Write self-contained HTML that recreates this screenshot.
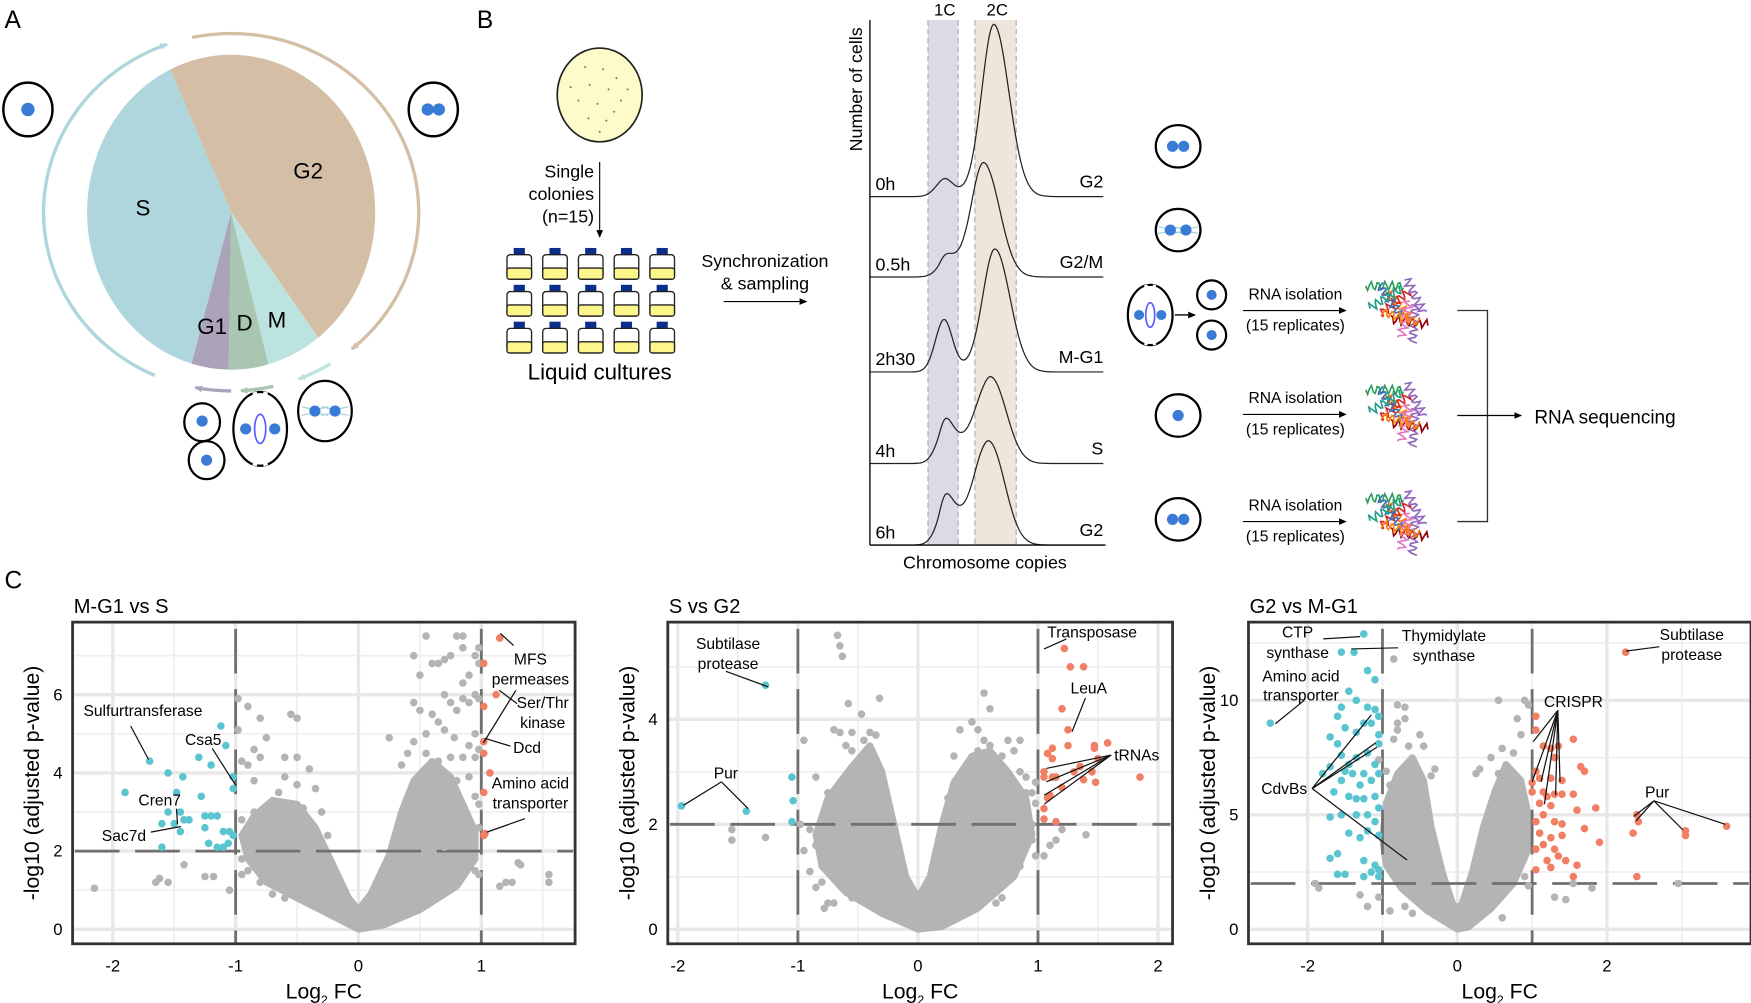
<!DOCTYPE html>
<html><head><meta charset="utf-8">
<style>
html,body{margin:0;padding:0;background:#fff;}
svg{display:block;font-family:"Liberation Sans",sans-serif;}
</style></head>
<body>
<svg id="fig" width="1751" height="1003" viewBox="0 0 1568 898" preserveAspectRatio="none">
<defs>
<marker id="ahk" markerWidth="8" markerHeight="8" refX="6" refY="4" orient="auto" markerUnits="userSpaceOnUse"><path d="M0,1 L7,4 L0,7 z" fill="#000"/></marker>
<marker id="ahb" markerWidth="8" markerHeight="8" refX="6" refY="4" orient="auto" markerUnits="userSpaceOnUse"><path d="M0,1 L7,4 L0,7 z" fill="#aed6dc"/></marker>
<marker id="aht" markerWidth="8" markerHeight="8" refX="6" refY="4" orient="auto" markerUnits="userSpaceOnUse"><path d="M0,1 L7,4 L0,7 z" fill="#d4bfa6"/></marker>
<marker id="ahc" markerWidth="8" markerHeight="8" refX="6" refY="4" orient="auto" markerUnits="userSpaceOnUse"><path d="M0,1 L7,4 L0,7 z" fill="#bde3e0"/></marker>
<marker id="ahg" markerWidth="8" markerHeight="8" refX="6" refY="4" orient="auto" markerUnits="userSpaceOnUse"><path d="M0,1 L7,4 L0,7 z" fill="#a8c6b2"/></marker>
<marker id="ahp" markerWidth="8" markerHeight="8" refX="6" refY="4" orient="auto" markerUnits="userSpaceOnUse"><path d="M0,1 L7,4 L0,7 z" fill="#aba3b9"/></marker>
</defs>

<text x="4" y="25" font-size="22">A</text>
<text x="427" y="25" font-size="22">B</text>
<text x="4" y="527" font-size="22">C</text>

<g id="pieA"></g>
<g id="ringA"></g>
<g><ellipse cx="25" cy="98" rx="22" ry="24" fill="#fff" stroke="#000" stroke-width="2.2"/><circle cx="25" cy="98" r="6" fill="#3a7bd5"/></g>
<g><ellipse cx="388" cy="98" rx="22" ry="24" fill="#fff" stroke="#000" stroke-width="2.2"/><circle cx="383" cy="98" r="5.5" fill="#3a7bd5"/><circle cx="393" cy="98" r="5.5" fill="#3a7bd5"/></g>
<g><ellipse cx="181" cy="378" rx="16" ry="17" fill="#fff" stroke="#000" stroke-width="2"/><circle cx="181" cy="377" r="5" fill="#3a7bd5"/></g>
<g><ellipse cx="185" cy="412" rx="16" ry="17" fill="#fff" stroke="#000" stroke-width="2"/><circle cx="185" cy="412" r="5" fill="#3a7bd5"/></g>
<g><ellipse cx="233" cy="384" rx="24" ry="33" fill="#fff" stroke="#000" stroke-width="2"/><path d="M228,351 Q233,372 228,384 Q233,396 228,417 M238,351 Q233,372 238,384 Q233,396 238,417" fill="#fff" stroke="#fff" stroke-width="4"/><ellipse cx="233" cy="384" rx="5" ry="13" fill="none" stroke="#5a5aff" stroke-width="1.5"/><circle cx="220" cy="384" r="5" fill="#3a7bd5"/><circle cx="246" cy="384" r="5" fill="#3a7bd5"/></g>
<g><ellipse cx="291" cy="368" rx="24" ry="27" fill="#fff" stroke="#000" stroke-width="2"/><path d="M270,364 Q282,368 294,364 M270,372 Q282,368 294,372 M288,364 Q300,368 312,364 M288,372 Q300,368 312,372" fill="none" stroke="#9bd0dc" stroke-width="1"/><circle cx="282" cy="368" r="5" fill="#3a7bd5"/><circle cx="300" cy="368" r="5" fill="#3a7bd5"/></g>

<g><ellipse cx="537" cy="85" rx="38" ry="42" fill="#fdfbc9" stroke="#222" stroke-width="1.5"/>
<g fill="#777"><circle cx="524" cy="60" r="0.9"/><circle cx="540" cy="62" r="0.9"/><circle cx="552" cy="70" r="0.9"/><circle cx="528" cy="76" r="0.9"/><circle cx="545" cy="80" r="0.9"/><circle cx="518" cy="90" r="0.9"/><circle cx="535" cy="93" r="0.9"/><circle cx="556" cy="90" r="0.9"/><circle cx="527" cy="106" r="0.9"/><circle cx="543" cy="108" r="0.9"/><circle cx="537" cy="118" r="0.9"/><circle cx="511" cy="78" r="0.9"/><circle cx="562" cy="80" r="0.9"/><circle cx="550" cy="100" r="0.9"/></g></g>
<line x1="537" y1="145" x2="537" y2="212" stroke="#000" stroke-width="1" marker-end="url(#ahk)"/>
<g font-size="16" text-anchor="end"><text x="532" y="159">Single</text><text x="532" y="179">colonies</text><text x="532" y="199">(n=15)</text></g>
<g id="bottles"></g>
<text x="537" y="340" font-size="20" text-anchor="middle">Liquid cultures</text>
<g font-size="16" text-anchor="middle"><text x="685" y="239">Synchronization</text><text x="685" y="259">&amp; sampling</text></g>
<line x1="648" y1="270" x2="722" y2="270" stroke="#000" stroke-width="1" marker-end="url(#ahk)"/>

<g id="hist"></g>

<g><ellipse cx="1055" cy="131" rx="20" ry="19" fill="#fff" stroke="#000" stroke-width="2"/><circle cx="1050" cy="131" r="5" fill="#3a7bd5"/><circle cx="1060" cy="131" r="5" fill="#3a7bd5"/></g>
<g><ellipse cx="1055" cy="206" rx="20" ry="19" fill="#fff" stroke="#000" stroke-width="2"/><path d="M1037,203 Q1048,206 1060,203 M1037,209 Q1048,206 1060,209 M1050,203 Q1062,206 1073,203 M1050,209 Q1062,206 1073,209" fill="none" stroke="#9bd0dc" stroke-width="1"/><circle cx="1048" cy="206" r="5" fill="#3a7bd5"/><circle cx="1062" cy="206" r="5" fill="#3a7bd5"/></g>
<g><ellipse cx="1030" cy="282" rx="20" ry="27" fill="#fff" stroke="#000" stroke-width="2"/><path d="M1026,255 Q1030,272 1026,282 Q1030,292 1026,309 M1034,255 Q1030,272 1034,282 Q1030,292 1034,309" fill="#fff" stroke="#fff" stroke-width="3"/><ellipse cx="1030" cy="282" rx="4" ry="11" fill="none" stroke="#5a5aff" stroke-width="1.5"/><circle cx="1020" cy="282" r="4.5" fill="#3a7bd5"/><circle cx="1040" cy="282" r="4.5" fill="#3a7bd5"/>
<line x1="1052" y1="282" x2="1070" y2="282" stroke="#000" stroke-width="1.2" marker-end="url(#ahk)"/>
<ellipse cx="1085" cy="264" rx="13" ry="13" fill="#fff" stroke="#000" stroke-width="2"/><circle cx="1085" cy="264" r="4.5" fill="#3a7bd5"/>
<ellipse cx="1085" cy="300" rx="13" ry="13" fill="#fff" stroke="#000" stroke-width="2"/><circle cx="1085" cy="300" r="4.5" fill="#3a7bd5"/></g>
<g><ellipse cx="1055" cy="372" rx="20" ry="19" fill="#fff" stroke="#000" stroke-width="2"/><circle cx="1055" cy="372" r="5" fill="#3a7bd5"/></g>
<g><ellipse cx="1055" cy="465" rx="20" ry="19" fill="#fff" stroke="#000" stroke-width="2"/><circle cx="1050" cy="465" r="5" fill="#3a7bd5"/><circle cx="1060" cy="465" r="5" fill="#3a7bd5"/></g>
<g id="rnaIso" font-size="14" text-anchor="middle"></g>
<g id="tangles"></g>
<path d="M1305,278 L1332,278 L1332,467 L1305,467" fill="none" stroke="#333" stroke-width="1.2"/>
<line x1="1305" y1="372" x2="1362" y2="372" stroke="#000" stroke-width="1.2" marker-end="url(#ahk)"/>
<text x="1374" y="379" font-size="17">RNA sequencing</text>

<g id="v1"></g>
<g id="v2"></g>
<g id="v3"></g>
<g id="ann" font-size="14"></g>
</svg>

<script>
const phaseNames = ["G2","M","D","G1","S"];
const phaseEndAngles = [52.8, 75, 91, 106, 245];
const phaseStartAngle = -115;
const phaseColors = ["#d4bfa6","#bde3e0","#a8c6b2","#aba3b9","#aed6dc"];

const traceTimes = ["0h","0.5h","2h30","4h","6h"];
const traceStages = ["G2","G2/M","M-G1","S","G2"];
const peak1CHeight = [13, 8, 44, 22, 22];
const sPhaseHeight = [4, 14, 4, 22, 28];
const peak2CHeight = [154, 98, 110, 76, 90];
const peak2CPos = [2.0, 1.82, 2.02, 1.95, 1.92];

const v1Grey = [[-2.15,1.05],[-1.65,1.2],[-1.62,1.3],[-1.55,1.2],[-1.42,1.65],[-1.25,1.35],[-1.18,1.35],[-1.05,1.0],[-0.98,5.9],[-0.98,5.1],[-0.95,4.3],[-0.9,5.7],[-0.9,4.2],[-0.85,4.6],[-0.8,4.4],[-0.8,5.4],[-0.75,4.9],[-0.6,4.4],[-0.55,5.5],[-0.5,5.4],[-0.5,4.4],[-0.4,4.1],[-0.6,3.9],[-0.5,3.7],[-0.35,3.6],[-0.3,3.0],[-0.7,3.2],[-0.85,3.0],[-0.9,2.6],[-0.95,2.8],[-0.95,1.8],[-0.9,1.5],[-0.8,1.2],[-0.75,1.5],[-0.7,0.9],[-0.6,0.8],[-0.65,3.5],[-0.45,3.1],[-0.2,1.5],[-0.25,2.4],[-0.85,3.8],[-0.95,1.4],[-0.75,2.5],
[0.25,4.9],[0.45,7.0],[0.5,6.5],[0.55,7.5],[0.6,6.8],[0.65,6.8],[0.7,6.9],[0.75,7.0],[0.8,7.5],[0.85,7.5],[0.85,7.2],[0.95,7.0],[0.98,6.8],[0.9,6.5],[0.85,6.3],[0.7,6.0],[0.75,5.8],[0.9,5.8],[0.95,6.0],[0.45,5.8],[0.5,5.6],[0.6,5.5],[0.65,5.3],[0.8,5.6],[0.85,5.9],[0.55,5.0],[0.7,5.1],[0.78,4.9],[0.9,4.7],[0.95,5.0],[0.98,4.6],[0.45,4.8],[0.55,4.5],[0.65,4.3],[0.75,4.4],[0.85,4.4],[0.95,4.4],[0.35,4.2],[0.4,4.5],[0.95,3.4],[0.98,3.2],[0.9,3.9],[0.8,3.8],[0.6,3.9],[0.98,2.6],[0.85,2.9],[0.8,2.4],[0.7,2.1],[0.9,1.8],[0.95,1.5],[0.98,1.4],[0.85,1.6],[0.75,1.3],[0.7,1.1],[0.6,1.2],[0.5,1.0],[0.6,0.9],[1.3,1.7],[1.32,1.65],[1.25,1.2],[1.2,1.2],[1.15,1.1],[1.55,1.4],[1.55,1.2],[0.98,7.2],[0.98,5.9]];
const v1Down = [[-1.7,4.3],[-1.55,4.0],[-1.43,3.9],[-1.48,3.5],[-1.9,3.5],[-1.28,3.4],[-1.3,4.4],[-1.2,4.2],[-1.12,5.2],[-1.08,4.7],[-1.02,3.9],[-1.02,3.6],[-1.55,3.0],[-1.45,3.0],[-1.5,2.7],[-1.6,2.7],[-1.42,2.8],[-1.38,2.8],[-1.25,2.9],[-1.2,2.9],[-1.15,2.9],[-1.45,2.5],[-1.25,2.6],[-1.1,2.5],[-1.05,2.5],[-1.02,2.4],[-1.22,2.2],[-1.15,2.1],[-1.1,2.1],[-1.06,2.2],[-1.6,2.1]];
const v1Up = [[1.15,7.45],[1.02,6.8],[1.12,6.0],[1.02,5.7],[1.02,4.8],[1.02,4.5],[1.07,4.0],[1.02,3.5],[1.03,2.45],[1.02,2.4]];
const v1Core = [[0,0],[-0.25,0.4],[-0.5,0.8],[-0.75,1.2],[-0.9,1.8],[-0.95,2.4],[-0.85,2.9],[-0.7,3.3],[-0.5,3.2],[-0.35,2.6],[-0.2,1.6],[-0.08,0.8],[0,0.5],[0.1,0.9],[0.25,1.9],[0.35,3.0],[0.45,3.8],[0.6,4.3],[0.75,3.9],[0.85,3.2],[0.95,2.5],[0.95,1.8],[0.8,1.1],[0.5,0.5],[0.2,0.1]];

const v2Grey = [[-0.67,5.6],[-0.65,5.4],[-0.63,5.2],[-0.32,4.4],[-0.58,4.3],[-0.47,4.1],[-0.7,3.8],[-0.65,3.75],[-0.55,3.75],[-0.4,3.75],[-0.35,3.7],[-0.45,3.6],[-0.6,3.5],[-0.55,3.4],[-0.95,3.6],[-0.85,2.9],[-0.75,2.6],[-0.8,2.1],[-0.9,1.9],[-0.85,1.6],[-0.95,1.5],[-0.9,1.1],[-0.8,0.9],[-0.75,0.5],[-0.7,0.5],[-0.78,0.4],[-0.85,0.8],[-0.6,0.9],[-0.55,0.6],[-1.55,1.9],[-1.55,1.7],[-1.27,1.75],[-0.98,2.0],[0.55,4.5],[0.6,4.2],[0.45,3.95],[0.35,3.8],[0.5,3.8],[0.55,3.6],[0.6,3.5],[0.5,3.4],[0.75,3.6],[0.85,3.6],[0.8,3.4],[0.7,3.3],[0.3,3.3],[0.85,3.0],[0.9,2.9],[0.95,2.6],[0.98,2.4],[0.88,2.3],[0.95,2.0],[0.9,1.9],[0.95,1.7],[0.98,1.4],[0.85,1.2],[0.75,1.0],[0.7,0.6],[0.65,0.5],[1.2,1.9],[1.15,1.7],[1.1,1.6],[1.05,1.4],[1.4,1.8],[0.98,2.8],[0.9,2.6],[0.25,2.5]];
const v2Down = [[-1.97,2.35],[-1.43,2.25],[-1.27,4.65],[-1.05,2.9],[-1.04,2.45],[-1.05,2.05]];
const v2Up = [[1.22,5.35],[1.27,5.0],[1.38,5.0],[1.2,4.2],[1.25,3.8],[1.25,3.5],[1.12,3.45],[1.08,3.35],[1.12,3.25],[1.05,3.0],[1.05,2.9],[1.12,2.9],[1.15,2.9],[1.47,3.5],[1.47,3.45],[1.58,3.55],[1.5,3.25],[1.45,3.0],[1.38,2.85],[1.48,2.8],[1.2,2.7],[1.1,2.55],[1.08,2.5],[1.05,2.3],[1.05,2.1],[1.15,2.05],[1.35,3.1],[1.85,2.9],[1.3,3.0]];
const v2Core = [[0,0],[-0.3,0.3],[-0.6,0.7],[-0.8,1.2],[-0.85,1.8],[-0.75,2.5],[-0.55,3.1],[-0.4,3.5],[-0.3,3.0],[-0.2,2.0],[-0.1,1.0],[0,0.6],[0.1,1.0],[0.2,2.0],[0.3,2.8],[0.45,3.3],[0.6,3.4],[0.75,3.0],[0.9,2.5],[0.95,1.8],[0.8,1.0],[0.5,0.4],[0.2,0.05]];

const v3Grey = [[0.55,10.0],[0.9,10.0],[0.95,9.8],[0.8,9.2],[0.85,8.5],[-0.8,9.8],[-0.7,9.7],[-0.8,9.0],[-0.7,9.2],[-0.65,8.0],[-0.8,8.7],[-0.5,8.5],[-0.45,8.0],[-0.85,8.3],[-0.85,11.8],[0.6,7.9],[0.75,7.7],[0.45,7.5],[0.3,7.0],[0.25,6.8],[-0.3,7.0],[-0.35,6.7],[-0.5,6.2],[-1.05,7.4],[-0.95,6.9],[-0.9,6.3],[0.7,6.5],[0.55,6.8],[-1.85,1.8],[-1.9,2.0],[-1.3,1.5],[-1.2,1.0],[-1.05,1.4],[-0.9,0.8],[1.3,1.4],[1.45,1.3],[1.8,1.8],[1.55,2.0],[2.95,2.0],[-0.7,1.0],[-0.6,0.7],[0.9,2.3],[0.95,1.9],[0.6,0.5]];
const v3Down = [[-2.5,9.0],[-1.25,12.9],[-1.55,12.1],[-1.38,12.1],[-1.2,11.3],[-1.1,10.9],[-1.45,10.4],[-1.55,9.7],[-1.35,10.0],[-1.2,9.7],[-1.1,9.6],[-1.05,9.3],[-1.15,9.0],[-1.25,9.0],[-1.5,8.8],[-1.6,9.3],[-1.35,8.6],[-1.7,8.4],[-1.6,8.1],[-1.55,7.6],[-1.45,7.2],[-1.35,7.5],[-1.2,7.7],[-1.05,8.1],[-1.1,7.2],[-1.05,8.5],[-1.7,7.1],[-1.5,6.9],[-1.4,6.8],[-1.25,6.8],[-1.15,6.5],[-1.05,6.8],[-1.3,6.3],[-1.55,6.5],[-1.8,6.8],[-1.65,6.0],[-1.45,5.8],[-1.35,5.7],[-1.25,5.7],[-1.1,5.8],[-1.05,5.3],[-1.2,5.0],[-1.35,5.0],[-1.55,5.0],[-1.7,4.9],[-1.1,4.7],[-1.05,4.1],[-1.2,4.3],[-1.45,4.2],[-1.3,4.0],[-1.6,3.3],[-1.7,3.1],[-1.25,3.0],[-1.1,2.8],[-1.05,2.6],[-1.15,2.5],[-1.25,2.3],[-1.5,2.4],[-1.6,2.4],[-1.05,2.3]];
const v3Up = [[2.25,12.1],[1.05,9.3],[1.05,8.7],[1.55,8.3],[1.25,7.9],[1.35,8.0],[1.3,7.5],[1.65,7.1],[1.7,6.9],[1.05,6.9],[1.1,6.6],[1.25,6.6],[1.4,6.5],[1.0,6.4],[1.15,6.0],[1.2,5.8],[1.3,5.9],[1.4,5.9],[1.55,5.9],[1.1,5.5],[1.25,5.4],[1.6,5.2],[1.85,5.3],[1.15,5.0],[1.3,4.7],[1.4,4.6],[1.05,4.7],[1.7,4.4],[1.1,4.2],[1.25,4.0],[1.4,4.1],[1.9,3.8],[1.15,3.7],[1.3,3.5],[1.05,3.5],[1.35,3.2],[1.2,3.0],[1.45,3.0],[1.6,2.8],[1.25,2.7],[1.05,2.6],[1.55,2.3],[2.4,5.0],[2.42,4.7],[2.35,4.2],[3.05,4.3],[3.05,4.1],[3.6,4.5],[2.4,2.3],[1.15,8.0],[1.0,6.0]];
const v3Core = [[0,0],[-0.4,0.8],[-0.75,1.8],[-0.95,2.8],[-1.0,4.0],[-0.95,5.5],[-0.8,6.8],[-0.6,7.5],[-0.45,6.5],[-0.35,4.5],[-0.2,2.5],[-0.05,1.0],[0.05,1.0],[0.2,2.5],[0.35,4.5],[0.5,6.0],[0.65,7.2],[0.85,6.5],[0.95,5.0],[0.95,3.5],[0.75,2.0],[0.45,0.9],[0.15,0.1]];

const v1XTicks = [-2,-1,0,1];
const v1YTicks = [0,2,4,6];
const v2XTicks = [-2,-1,0,1,2];
const v2YTicks = [0,2,4];
const v3XTicks = [-2,0,2];
const v3YTicks = [0,5,10];

const NS = "http://www.w3.org/2000/svg";
function mk(tag, attrs, parent){
  const e = document.createElementNS(NS, tag);
  for (const k in attrs) e.setAttribute(k, attrs[k]);
  if (parent) parent.appendChild(e);
  return e;
}

(function(){
  const g = document.getElementById('pieA');
  const cx=207, cy=190, rx=129, ry=141;
  const pt = a => [cx+rx*Math.cos(a*Math.PI/180), cy+ry*Math.sin(a*Math.PI/180)];
  let start = phaseStartAngle;
  phaseNames.forEach((n,i)=>{
    const end = phaseEndAngles[i];
    const p0 = pt(start), p1 = pt(end);
    const large = (end-start)>180?1:0;
    const p = mk('path',{d:`M${cx},${cy} L${p0[0]},${p0[1]} A${rx},${ry} 0 ${large} 1 ${p1[0]},${p1[1]} Z`, fill:phaseColors[i]}, g);
    
    
    start = end;
  });
  const labels = [["S",128,193],["G2",276,160],["G1",190,299],["D",219,296],["M",248,293]];
  labels.forEach(l=>{
    const t = mk('text',{x:l[1],y:l[2],'font-size':20,'text-anchor':'middle'},g);
    t.textContent = l[0];
    
    
  });
  const r = document.getElementById('ringA');
  const Rx=168, Ry=160;
  const rp = a => [cx+Rx*Math.cos(a*Math.PI/180), cy+Ry*Math.sin(a*Math.PI/180)];
  function arc(a0,a1,col,marker,name){
    const p0=rp(a0), p1=rp(a1);
    const large = Math.abs(a1-a0)>180?1:0;
    const sweep = a1>a0?1:0;
    const p = mk('path',{d:`M${p0[0]},${p0[1]} A${Rx},${Ry} 0 ${large} ${sweep} ${p1[0]},${p1[1]}`,fill:'none',stroke:col,'stroke-width':3,'marker-end':`url(#${marker})`},r);
    
    
  }
  arc(-102,50,'#d4bfa6','aht','g2-arc');
  arc(58,69,'#bde3e0','ahc','m-arc');
  arc(77,87,'#a8c6b2','ahg','d-arc');
  arc(90,101,'#aba3b9','ahp','g1-arc');
  arc(114,250,'#aed6dc','ahb','s-arc');
})();

(function(){
  const g = document.getElementById('bottles');
  const xs=[465,497,529,561,593], ys=[222,255,288];
  ys.forEach(y=>xs.forEach(x=>{
    const b = mk('g',{},g);
    
    
    mk('rect',{x:x-5,y:y,width:10,height:6,fill:'#0b2e8a'},b);
    mk('rect',{x:x-11,y:y+6,width:22,height:22,rx:3,fill:'#fff',stroke:'#222','stroke-width':1.2},b);
    mk('rect',{x:x-11,y:y+18,width:22,height:10,rx:2,fill:'#fdf68a',stroke:'#222','stroke-width':1.2},b);
  }));
})();

(function(){
  const g = document.getElementById('hist');
  const baselines = [176,248,333,415,488];
  const b1 = mk('rect',{x:831,y:18,width:27,height:470,fill:'#dcdae6'},g);
  
  
  const b2 = mk('rect',{x:873,y:18,width:37,height:470,fill:'#efe5da'},g);
  
  
  [831,858,873,910].forEach(x=>mk('line',{x1:x,y1:18,x2:x,y2:488,stroke:'#a9a7bd','stroke-width':1,'stroke-dasharray':'5,3'},g));
  const t1 = mk('text',{x:846,y:14,'font-size':15,'text-anchor':'middle'},g); t1.textContent='1C';
  
  
  const t2 = mk('text',{x:893,y:14,'font-size':15,'text-anchor':'middle'},g); t2.textContent='2C';
  
  
  traceTimes.forEach((tm,i)=>{
    const base = baselines[i];
    let d='';
    for (let x=779; x<=988; x+=1){
      const v = (x-800)/45;
      const sig = v<peak2CPos[i] ? 0.24 : 0.3;
      let h = peak1CHeight[i]*Math.exp(-Math.pow((v-1)/0.17,2)/2)
            + peak2CHeight[i]*Math.exp(-Math.pow((v-peak2CPos[i])/sig,2)/2);
      // S-phase plateau between 1C and 2C
      const sp = 1/(1+Math.exp(-(v-0.95)/0.05)) * 1/(1+Math.exp((v-1.75)/0.08));
      h += sPhaseHeight[i]*sp;
      d += (x===779?'M':'L') + x + ',' + (base - h).toFixed(1) + ' ';
    }
    const p = mk('path',{d:d,fill:'none',stroke:'#222','stroke-width':1.1},g);
    
    
    const l = mk('text',{x:784,y:base-6,'font-size':16},g); l.textContent = tm;
    
    
    const s = mk('text',{x:988,y:base-8,'font-size':16,'text-anchor':'end'},g); s.textContent = traceStages[i];
    
    
  });
  mk('line',{x1:779,y1:18,x2:779,y2:488,stroke:'#000','stroke-width':1.2},g);
  mk('line',{x1:779,y1:488,x2:990,y2:488,stroke:'#000','stroke-width':1.2},g);
  const yl = mk('text',{x:0,y:0,'font-size':16,'text-anchor':'middle',transform:'translate(772,80) rotate(-90)'},g); yl.textContent='Number of cells';
  
  
  const xl = mk('text',{x:882,y:509,'font-size':16,'text-anchor':'middle'},g); xl.textContent='Chromosome copies';
  
  
})();

(function(){
  const g = document.getElementById('rnaIso');
  [278,371,467].forEach((y,i)=>{
    const a = mk('text',{x:1160,y:y-10},g); a.textContent='RNA isolation';
    
    
    const ln = mk('line',{x1:1113,y1:y,x2:1205,y2:y,stroke:'#000','stroke-width':1,'marker-end':'url(#ahk)'},g);
    
    
    const b = mk('text',{x:1160,y:y+18},g); b.textContent='(15 replicates)';
    
    
  });
  const tg = document.getElementById('tangles');
  const cols = ['#2ca05a','#ff7f0e','#9467bd','#d62728','#8b0000','#3f6fb5','#e377c2','#1f9e89','#ff7f0e','#9467bd'];
  [240,333,430].forEach(y0=>{
    cols.forEach((c,k)=>{
      const ang = (k*47 % 180) * Math.PI/180;
      const ccx = 1255 + ((k*13)%30) - 15, ccy = y0 + 34 + ((k*17)%36) - 18;
      const len = 34;
      let d='';
      for (let s=0;s<=20;s++){
        const t = -len/2 + s*len/20;
        const w = 4*Math.sin(s*1.7 + k);
        const x = ccx + t*Math.cos(ang) - w*Math.sin(ang);
        const y = ccy + t*Math.sin(ang) + w*Math.cos(ang);
        d += (s?'L':'M') + x.toFixed(1) + ',' + y.toFixed(1) + ' ';
      }
      mk('path',{d:d,fill:'none',stroke:c,'stroke-width':1.5},tg);
    });
  });
})();

function volcano(id, cfg){
  const g = document.getElementById(id);
  const X = v => cfg.x0 + v*cfg.xu;
  const Y = v => cfg.y0 - v*cfg.yu;
  const [bx0,bx1,by0,by1] = cfg.box;
  cfg.xMinor.forEach(v=>mk('line',{x1:X(v),y1:by0,x2:X(v),y2:by1,stroke:'#efefef','stroke-width':1.5},g));
  cfg.yMinor.forEach(v=>mk('line',{x1:bx0,y1:Y(v),x2:bx1,y2:Y(v),stroke:'#efefef','stroke-width':1.5},g));
  cfg.xt.forEach(v=>mk('line',{x1:X(v),y1:by0,x2:X(v),y2:by1,stroke:'#e8e8e8','stroke-width':3},g));
  cfg.yt.forEach(v=>mk('line',{x1:bx0,y1:Y(v),x2:bx1,y2:Y(v),stroke:'#e8e8e8','stroke-width':3},g));
  const core = mk('polygon',{points:cfg.core.map(p=>X(p[0])+','+Y(p[1])).join(' '),fill:'#b4b4b4',stroke:'#b4b4b4','stroke-width':6,'stroke-linejoin':'round'},g);
  
  
  mk('line',{x1:bx0+2,y1:Y(2),x2:bx1-2,y2:Y(2),stroke:'#707070','stroke-width':2.5,'stroke-dasharray':'40,14'},g);
  [-1,1].forEach(v=>mk('line',{x1:X(v),y1:by0+6,x2:X(v),y2:by1,stroke:'#707070','stroke-width':2.5,'stroke-dasharray':'40,14'},g));
  const sets = [[cfg.grey,'#b4b4b4','point-not-significant'],[cfg.down,'#5bc4d1','point-down'],[cfg.up,'#f07f63','point-up']];
  sets.forEach(s=>s[0].forEach(p=>{
    const c = mk('circle',{cx:X(p[0]),cy:Y(p[1]),r:3.4,fill:s[1]},g);
    
    
  }));
  mk('rect',{x:bx0,y:by0,width:bx1-bx0,height:by1-by0,fill:'none',stroke:'#333','stroke-width':2.5},g);
  cfg.xt.forEach(v=>{
    const t = mk('text',{x:X(v),y:by1+25,'font-size':15,'text-anchor':'middle'},g);
    t.textContent = v<0 ? '-'+Math.abs(v) : String(v);
    
    
  });
  cfg.yt.forEach(v=>{
    const t = mk('text',{x:bx0-9,y:Y(v)+5,'font-size':15,'text-anchor':'end'},g);
    t.textContent = String(v);
    
    
  });
  const ti = mk('text',{x:bx0+1,y:by0-8,'font-size':18},g); ti.textContent = cfg.title;
  
  
  const xl = mk('text',{x:(bx0+bx1)/2,y:by1+49,'font-size':19,'text-anchor':'middle'},g);
  xl.innerHTML = 'Log<tspan font-size="11" dy="5">2</tspan><tspan dy="-5"> FC</tspan>';
  
  
  const yl = mk('text',{x:0,y:0,'font-size':19,'text-anchor':'middle',transform:`translate(${bx0-30},${(by0+by1)/2}) rotate(-90)`},g);
  yl.textContent = '-log10 (adjusted p-value)';
  
  
}
volcano('v1',{box:[65,515,557,845],x0:321,xu:110,y0:832,yu:35,xt:v1XTicks,yt:v1YTicks,xMinor:[-1.5,-0.5,0.5,1.5],yMinor:[1,3,5,7],grey:v1Grey,down:v1Down,up:v1Up,core:v1Core,title:'M-G1 vs S'});
volcano('v2',{box:[598,1050,557,845],x0:822,xu:107.5,y0:832,yu:47,xt:v2XTicks,yt:v2YTicks,xMinor:[-1.5,-0.5,0.5,1.5],yMinor:[1,3,5],grey:v2Grey,down:v2Down,up:v2Up,core:v2Core,title:'S vs G2'});
volcano('v3',{box:[1118,1568,557,845],x0:1305,xu:67,y0:832,yu:20.5,xt:v3XTicks,yt:v3YTicks,xMinor:[-1,1,3],yMinor:[2.5,7.5,12.5],grey:v3Grey,down:v3Down,up:v3Up,core:v3Core,title:'G2 vs M-G1'});

(function(){
  const g = document.getElementById('ann');
  const texts = [
    ['Sulfurtransferase',128,641],['Csa5',182,667],['Cren7',143,721],['Sac7d',111,753],
    ['MFS',475,595],['permeases',475,613],['Ser/Thr',486,634],['kinase',486,652],['Dcd',472,674],['Amino acid',475,706],['transporter',475,724],
    ['Subtilase',652,581],['protease',652,599],['Pur',650,697],['Transposase',978,571],['LeuA',975,621],['tRNAs',1018,681],
    ['CTP',1162,571],['synthase',1162,589],['Thymidylate',1293,574],['synthase',1293,592],['Amino acid',1165,610],['transporter',1165,627],['CdvBs',1150,711],['CRISPR',1409,633],['Subtilase',1515,573],['protease',1515,591],['Pur',1484,714]
  ];
  texts.forEach(t=>{
    const e = mk('text',{x:t[1],y:t[2],'text-anchor':'middle'},g);
    e.textContent = t[0];
    
    
  });
  const lines = [
    [117,650,133,680],[190,670,211,703],[158,724,159,738],[135,745,162,740],
    [448,567,460,578],[462,618,433,665],[447,618,463,630],[434,661,457,668],[470,733,436,745],
    [650,601,688,615],[646,700,612,721],[646,700,670,724],
    [955,572,935,581],[972,625,960,655],[995,676,937,688],[995,676,937,700],[995,676,935,712],[995,676,935,720],
    [1185,572,1218,570],[1252,580,1210,581],[1168,627,1142,648],
    [1175,706,1228,640],[1175,706,1232,665],[1175,706,1233,669],[1175,706,1260,770],
    [1395,636,1373,664],[1395,636,1372,700],[1395,636,1380,700],[1395,636,1383,720],[1395,636,1393,712],[1395,636,1397,700],
    [1486,579,1456,583],[1481,717,1463,731],[1481,717,1465,735],[1481,717,1507,743],[1481,717,1545,738]
  ];
  lines.forEach(l=>{
    const e = mk('line',{x1:l[0],y1:l[1],x2:l[2],y2:l[3],stroke:'#111','stroke-width':1.1},g);
    
    
  });
})();
</script>
</body></html>
